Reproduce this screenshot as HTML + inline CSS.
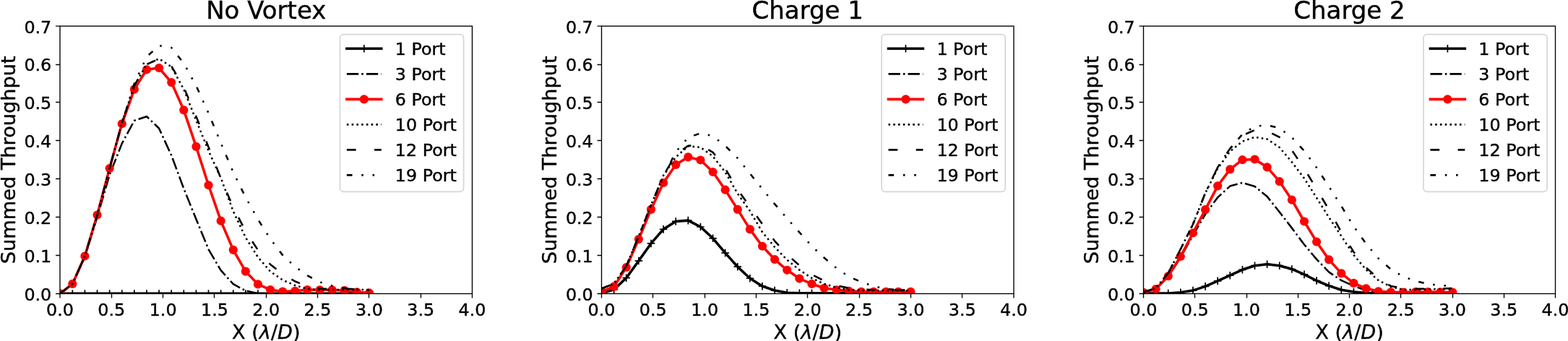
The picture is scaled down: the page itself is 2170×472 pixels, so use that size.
<!DOCTYPE html>
<html lang="en"><head><meta charset="utf-8"><title>Summed Throughput</title>
<style>html,body{margin:0;padding:0;background:#fff;}body{width:2170px;height:472px;overflow:hidden;position:relative;font-family:'DejaVu Sans','Liberation Sans',sans-serif;}svg text{fill:#000;stroke:#000;stroke-width:0.4px;stroke-linejoin:round;}</style>
</head><body>
<svg role="img" aria-label="Summed throughput versus separation for three vortex charges" width="2170" height="472" viewBox="0 0 2170 472" style="display:block;position:absolute;left:0;top:0" font-family="'DejaVu Sans','Liberation Sans',sans-serif">
<rect width="2170" height="472" fill="#fff"/>
<defs>
<clipPath id="c0"><rect x="83" y="36.15" width="570.5" height="370.35"/></clipPath>
<clipPath id="c1"><rect x="832.5" y="36.15" width="570.5" height="370.35"/></clipPath>
<clipPath id="c2"><rect x="1582.5" y="36.15" width="570" height="370.35"/></clipPath>
</defs>
<g class="panel">
<g clip-path="url(#c0)" fill="none">
<polyline points="83.2,406.4 100.31,406.4 117.42,406.4 134.54,406.4 151.65,406.4 168.76,406.4 185.87,406.4 202.98,406.4 220.1,406.4 237.21,406.4 254.32,406.4 271.43,406.4 288.54,406.4 305.66,406.4 322.77,406.4 339.88,406.4 356.99,406.4 374.1,406.4 391.22,406.4 408.33,406.4 425.44,406.4 442.55,406.4 459.66,406.4 476.78,406.4 493.89,406.4 511,406.4" stroke="#000" stroke-width="3.57" stroke-linejoin="round" stroke-linecap="square"/>
<path d="M77.93,406.4h10.54M83.2,401.13v10.54M95.04,406.4h10.54M100.31,401.13v10.54M112.15,406.4h10.54M117.42,401.13v10.54M129.27,406.4h10.54M134.54,401.13v10.54M146.38,406.4h10.54M151.65,401.13v10.54M163.49,406.4h10.54M168.76,401.13v10.54M180.6,406.4h10.54M185.87,401.13v10.54M197.71,406.4h10.54M202.98,401.13v10.54M214.83,406.4h10.54M220.1,401.13v10.54M231.94,406.4h10.54M237.21,401.13v10.54M249.05,406.4h10.54M254.32,401.13v10.54M266.16,406.4h10.54M271.43,401.13v10.54M283.27,406.4h10.54M288.54,401.13v10.54M300.39,406.4h10.54M305.66,401.13v10.54M317.5,406.4h10.54M322.77,401.13v10.54M334.61,406.4h10.54M339.88,401.13v10.54M351.72,406.4h10.54M356.99,401.13v10.54M368.83,406.4h10.54M374.1,401.13v10.54M385.95,406.4h10.54M391.22,401.13v10.54M403.06,406.4h10.54M408.33,401.13v10.54M420.17,406.4h10.54M425.44,401.13v10.54M437.28,406.4h10.54M442.55,401.13v10.54M454.39,406.4h10.54M459.66,401.13v10.54M471.51,406.4h10.54M476.78,401.13v10.54M488.62,406.4h10.54M493.89,401.13v10.54M505.73,406.4h10.54M511,401.13v10.54" stroke="#000" stroke-width="1.7"/>
<polyline points="83.2,406.4 100.31,393.18 117.42,355.65 134.54,300.67 151.65,241.99 168.76,198.64 185.87,166.92 202.98,161.22 220.1,177.71 237.21,215.03 254.32,261.02 271.43,303.31 288.54,345.08 305.66,374.15 322.77,393.18 339.88,402.44 356.99,406.14 374.1,406.4 391.22,406.4 408.33,406.4 425.44,406.4 442.55,406.4 459.66,406.4 476.78,406.4 493.89,406.4 511,406.4" stroke="#000" stroke-width="2.55" stroke-linejoin="round" stroke-dasharray="16.32,4.08,2.55,4.08"/>
<polyline points="83.2,406.4 100.31,392.92 117.42,354.54 134.54,297.55 151.65,233.01 168.76,171.31 185.87,123.58 202.98,96.3 220.1,93.97 237.21,114.06 254.32,152.33 271.43,202.87 288.54,256.27 305.66,305.69 322.77,345.87 339.88,375.63 356.99,393.45 374.1,401.06 391.22,403.65 408.33,402.86 425.44,401.06 442.55,401.27 459.66,401.22 476.78,402.17 493.89,404.29 511,405.45" stroke="#f00" stroke-width="3.57" stroke-linejoin="round" stroke-linecap="square"/>
<circle cx="83.2" cy="406.4" r="6.08" fill="#f00"/>
<circle cx="100.31" cy="392.92" r="6.08" fill="#f00"/>
<circle cx="117.42" cy="354.54" r="6.08" fill="#f00"/>
<circle cx="134.54" cy="297.55" r="6.08" fill="#f00"/>
<circle cx="151.65" cy="233.01" r="6.08" fill="#f00"/>
<circle cx="168.76" cy="171.31" r="6.08" fill="#f00"/>
<circle cx="185.87" cy="123.58" r="6.08" fill="#f00"/>
<circle cx="202.98" cy="96.3" r="6.08" fill="#f00"/>
<circle cx="220.1" cy="93.97" r="6.08" fill="#f00"/>
<circle cx="237.21" cy="114.06" r="6.08" fill="#f00"/>
<circle cx="254.32" cy="152.33" r="6.08" fill="#f00"/>
<circle cx="271.43" cy="202.87" r="6.08" fill="#f00"/>
<circle cx="288.54" cy="256.27" r="6.08" fill="#f00"/>
<circle cx="305.66" cy="305.69" r="6.08" fill="#f00"/>
<circle cx="322.77" cy="345.87" r="6.08" fill="#f00"/>
<circle cx="339.88" cy="375.63" r="6.08" fill="#f00"/>
<circle cx="356.99" cy="393.45" r="6.08" fill="#f00"/>
<circle cx="374.1" cy="401.06" r="6.08" fill="#f00"/>
<circle cx="391.22" cy="403.65" r="6.08" fill="#f00"/>
<circle cx="408.33" cy="402.86" r="6.08" fill="#f00"/>
<circle cx="425.44" cy="401.06" r="6.08" fill="#f00"/>
<circle cx="442.55" cy="401.27" r="6.08" fill="#f00"/>
<circle cx="459.66" cy="401.22" r="6.08" fill="#f00"/>
<circle cx="476.78" cy="402.17" r="6.08" fill="#f00"/>
<circle cx="493.89" cy="404.29" r="6.08" fill="#f00"/>
<circle cx="511" cy="405.45" r="6.08" fill="#f00"/>
<polyline points="83.2,406.4 100.31,392.92 117.42,354.54 134.54,297.55 151.65,233.01 168.76,170.1 185.87,118.29 202.98,89.21 220.1,81.28 237.21,92.39 254.32,123.58 271.43,166.4 288.54,208.69 305.66,246.43 322.77,292.42 339.88,328.74 356.99,355.91 374.1,375.74 391.22,387.63 408.33,395.03 425.44,399.79 442.55,401.27 459.66,401.01 476.78,400.9 493.89,400.9 511,401.01" stroke="#000" stroke-width="2.55" stroke-linejoin="round" stroke-dasharray="2.55,4.21"/>
<polyline points="83.2,406.4 100.31,392.92 117.42,354.54 134.54,297.55 151.65,233.01 168.76,170.1 185.87,118.29 202.98,89.21 220.1,81.28 237.21,91.33 254.32,120.93 271.43,161.11 288.54,203.4 305.66,246.75 322.77,286.82 339.88,320.13 356.99,346.08 374.1,365.96 391.22,379.28 408.33,389.48 425.44,396.09 442.55,399.53 459.66,399.79 476.78,399.53 493.89,400.58 511,401.64" stroke="#000" stroke-width="2.55" stroke-linejoin="round" stroke-dasharray="12.75,25.5"/>
<polyline points="83.2,406.4 100.31,392.92 117.42,354.54 134.54,297.55 151.65,233.01 168.76,170.1 185.87,115.65 202.98,78.64 220.1,63.1 237.21,65.95 254.32,87.58 271.43,118.66 288.54,156.56 305.66,197.96 322.77,238.34 339.88,273.02 356.99,303.74 374.1,330.75 391.22,353.17 408.33,369.18 425.44,381.29 442.55,390.43 459.66,395.62 476.78,398.73 493.89,400.58 511,401.64" stroke="#000" stroke-width="2.55" stroke-linejoin="round" stroke-dasharray="7.65,12.75,2.55,12.75,2.55,12.75"/>
</g>
<path d="M83,406.5v5.95M154.5,406.5v5.95M225.5,406.5v5.95M296.5,406.5v5.95M368.5,406.5v5.95M439.5,406.5v5.95M510.5,406.5v5.95M582.5,406.5v5.95M653.5,406.5v5.95M83,406.5h-5.95M83,353.5h-5.95M83,300.5h-5.95M83,247.5h-5.95M83,194.5h-5.95M83,141.5h-5.95M83,89.5h-5.95M83,36.15h-5.95" stroke="#000" stroke-width="1.36" fill="none"/>
<rect x="83" y="36.15" width="570.5" height="370.35" fill="none" stroke="#000" stroke-width="1.36" stroke-linejoin="miter"/>
<g font-size="23.85" text-anchor="middle">
<text x="83" y="436.8">0.0</text>
<text x="154.31" y="436.8">0.5</text>
<text x="225.62" y="436.8">1.0</text>
<text x="296.94" y="436.8">1.5</text>
<text x="368.25" y="436.8">2.0</text>
<text x="439.56" y="436.8">2.5</text>
<text x="510.88" y="436.8">3.0</text>
<text x="582.19" y="436.8">3.5</text>
<text x="653.5" y="436.8">4.0</text>
</g>
<g font-size="23.85" text-anchor="end">
<text x="71.3" y="415.9">0.0</text>
<text x="71.3" y="362.99">0.1</text>
<text x="71.3" y="310.09">0.2</text>
<text x="71.3" y="257.18">0.3</text>
<text x="71.3" y="204.27">0.4</text>
<text x="71.3" y="151.36">0.5</text>
<text x="71.3" y="98.46">0.6</text>
<text x="71.3" y="45.55">0.7</text>
</g>
<text x="368.25" y="26" font-size="34" text-anchor="middle">No Vortex</text>
<text x="368.25" y="468.8" font-size="27.2" text-anchor="middle">X (<tspan font-style="italic">λ</tspan>/<tspan font-style="italic">D</tspan>)</text>
<text transform="translate(20.7,221.32) rotate(-90)" font-size="27.2" text-anchor="middle">Summed Throughput</text>
<rect x="470.5" y="47.7" width="171.1" height="217.6" rx="4.76" fill="#fff" fill-opacity="0.8" stroke="#ccc" stroke-opacity="0.8" stroke-width="1.7"/>
<line x1="479.9" y1="67.25" x2="527.8" y2="67.25" stroke="#000" stroke-width="3.57" stroke-linecap="square"/>
<path d="M498.58,67.25h10.54M503.85,61.98v10.54" stroke="#000" stroke-width="1.7"/>
<text x="546.8" y="76.05" font-size="23.8">1 Port</text>
<line x1="479.9" y1="102.35" x2="527.8" y2="102.35" stroke="#000" stroke-width="2.55" stroke-dasharray="16.32,4.08,2.55,4.08"/>
<text x="546.8" y="111.15" font-size="23.8">3 Port</text>
<line x1="479.9" y1="137.35" x2="527.8" y2="137.35" stroke="#f00" stroke-width="3.57" stroke-linecap="square"/>
<circle cx="503.85" cy="137.35" r="6.08" fill="#f00"/>
<text x="546.8" y="146.15" font-size="23.8">6 Port</text>
<line x1="479.9" y1="172.35" x2="527.8" y2="172.35" stroke="#000" stroke-width="2.55" stroke-dasharray="2.55,4.21"/>
<text x="546.8" y="181.15" font-size="23.8">10 Port</text>
<line x1="479.9" y1="207.35" x2="527.8" y2="207.35" stroke="#000" stroke-width="2.55" stroke-dasharray="12.75,25.5"/>
<text x="546.8" y="216.15" font-size="23.8">12 Port</text>
<line x1="479.9" y1="242.35" x2="527.8" y2="242.35" stroke="#000" stroke-width="2.55" stroke-dasharray="7.65,12.75,2.55,12.75,2.55,12.75"/>
<text x="546.8" y="251.15" font-size="23.8">19 Port</text>
</g>
<g class="panel">
<g clip-path="url(#c1)" fill="none">
<polyline points="832.55,405.85 849.66,400.78 866.77,384.7 883.89,361.07 901,336.91 918.11,317.36 935.22,306.41 952.33,305.14 969.45,314.02 986.56,329.78 1003.67,350.13 1020.78,369.22 1037.89,385.23 1055.01,396.18 1072.12,401.99 1089.23,405.32 1106.34,405.85 1123.45,405.85 1140.57,405.85 1157.68,405.85 1174.79,405.85 1191.9,405.85 1209.01,405.85 1226.13,405.85 1243.24,405.85 1260.35,405.85" stroke="#000" stroke-width="3.57" stroke-linejoin="round" stroke-linecap="square"/>
<path d="M827.28,405.85h10.54M832.55,400.58v10.54M844.39,400.78h10.54M849.66,395.51v10.54M861.5,384.7h10.54M866.77,379.43v10.54M878.62,361.07h10.54M883.89,355.8v10.54M895.73,336.91h10.54M901,331.64v10.54M912.84,317.36h10.54M918.11,312.09v10.54M929.95,306.41h10.54M935.22,301.14v10.54M947.06,305.14h10.54M952.33,299.87v10.54M964.18,314.02h10.54M969.45,308.75v10.54M981.29,329.78h10.54M986.56,324.51v10.54M998.4,350.13h10.54M1003.67,344.86v10.54M1015.51,369.22h10.54M1020.78,363.95v10.54M1032.62,385.23h10.54M1037.89,379.96v10.54M1049.74,396.18h10.54M1055.01,390.91v10.54M1066.85,401.99h10.54M1072.12,396.72v10.54M1083.96,405.32h10.54M1089.23,400.05v10.54M1101.07,405.85h10.54M1106.34,400.58v10.54M1118.18,405.85h10.54M1123.45,400.58v10.54M1135.3,405.85h10.54M1140.57,400.58v10.54M1152.41,405.85h10.54M1157.68,400.58v10.54M1169.52,405.85h10.54M1174.79,400.58v10.54M1186.63,405.85h10.54M1191.9,400.58v10.54M1203.74,405.85h10.54M1209.01,400.58v10.54M1220.86,405.85h10.54M1226.13,400.58v10.54M1237.97,405.85h10.54M1243.24,400.58v10.54M1255.08,405.85h10.54M1260.35,400.58v10.54" stroke="#000" stroke-width="1.7"/>
<polyline points="832.55,405.85 849.66,400.78 866.77,384.7 883.89,361.07 901,336.91 918.11,317.36 935.22,306.41 952.33,305.14 969.45,314.02 986.56,329.78 1003.67,350.13 1020.78,369.22 1037.89,385.23 1055.01,396.18 1072.12,401.99 1089.23,405.32 1106.34,405.85 1123.45,405.85 1140.57,405.85 1157.68,405.85 1174.79,405.85 1191.9,405.85 1209.01,405.85 1226.13,405.85 1243.24,405.85 1260.35,405.85" stroke="#000" stroke-width="2.55" stroke-linejoin="round" stroke-dasharray="16.32,4.08,2.55,4.08"/>
<polyline points="832.55,403.74 849.66,396.7 866.77,370.01 883.89,331.1 901,289.92 918.11,253.02 935.22,227.91 952.33,217.39 969.45,221.51 986.56,238.01 1003.67,262.69 1020.78,289.92 1037.89,317.36 1055.01,340.77 1072.12,359.07 1089.23,373.81 1106.34,385.55 1123.45,392.95 1140.57,398.71 1157.68,401.25 1174.79,402.89 1191.9,403.89 1209.01,403.89 1226.13,403.89 1243.24,403.74 1260.35,403.74" stroke="#f00" stroke-width="3.57" stroke-linejoin="round" stroke-linecap="square"/>
<circle cx="832.55" cy="403.74" r="6.08" fill="#f00"/>
<circle cx="849.66" cy="396.7" r="6.08" fill="#f00"/>
<circle cx="866.77" cy="370.01" r="6.08" fill="#f00"/>
<circle cx="883.89" cy="331.1" r="6.08" fill="#f00"/>
<circle cx="901" cy="289.92" r="6.08" fill="#f00"/>
<circle cx="918.11" cy="253.02" r="6.08" fill="#f00"/>
<circle cx="935.22" cy="227.91" r="6.08" fill="#f00"/>
<circle cx="952.33" cy="217.39" r="6.08" fill="#f00"/>
<circle cx="969.45" cy="221.51" r="6.08" fill="#f00"/>
<circle cx="986.56" cy="238.01" r="6.08" fill="#f00"/>
<circle cx="1003.67" cy="262.69" r="6.08" fill="#f00"/>
<circle cx="1020.78" cy="289.92" r="6.08" fill="#f00"/>
<circle cx="1037.89" cy="317.36" r="6.08" fill="#f00"/>
<circle cx="1055.01" cy="340.77" r="6.08" fill="#f00"/>
<circle cx="1072.12" cy="359.07" r="6.08" fill="#f00"/>
<circle cx="1089.23" cy="373.81" r="6.08" fill="#f00"/>
<circle cx="1106.34" cy="385.55" r="6.08" fill="#f00"/>
<circle cx="1123.45" cy="392.95" r="6.08" fill="#f00"/>
<circle cx="1140.57" cy="398.71" r="6.08" fill="#f00"/>
<circle cx="1157.68" cy="401.25" r="6.08" fill="#f00"/>
<circle cx="1174.79" cy="402.89" r="6.08" fill="#f00"/>
<circle cx="1191.9" cy="403.89" r="6.08" fill="#f00"/>
<circle cx="1209.01" cy="403.89" r="6.08" fill="#f00"/>
<circle cx="1226.13" cy="403.89" r="6.08" fill="#f00"/>
<circle cx="1243.24" cy="403.74" r="6.08" fill="#f00"/>
<circle cx="1260.35" cy="403.74" r="6.08" fill="#f00"/>
<polyline points="832.55,399.51 849.66,392.63 866.77,368.05 883.89,327.08 901,283.79 918.11,242.82 935.22,217.55 952.33,202.32 969.45,203.91 986.56,216.33 1003.67,238.22 1020.78,267.98 1037.89,292.09 1055.01,321.32 1072.12,341.99 1089.23,359.7 1106.34,373.66 1123.45,385.02 1140.57,392.95 1157.68,397.87 1174.79,401.15 1191.9,401.89 1209.01,401.99 1226.13,402.1 1243.24,402.15 1260.35,402.15" stroke="#000" stroke-width="2.55" stroke-linejoin="round" stroke-dasharray="2.55,4.21"/>
<polyline points="832.55,399.51 849.66,392.63 866.77,368.05 883.89,327.08 901,283.79 918.11,243.03 935.22,213.95 952.33,201.79 969.45,201.16 986.56,210.78 1003.67,233.2 1020.78,262.11 1037.89,286.43 1055.01,310.06 1072.12,333.53 1089.23,352.3 1106.34,367.36 1123.45,379.89 1140.57,388.67 1157.68,395.28 1174.79,398.61 1191.9,400.51 1209.01,401.2 1226.13,401.41 1243.24,401.57 1260.35,401.62" stroke="#000" stroke-width="2.55" stroke-linejoin="round" stroke-dasharray="12.75,25.5"/>
<polyline points="832.55,399.51 849.66,392.63 866.77,368.05 883.89,327.08 901,283.79 918.11,245.25 935.22,210.25 952.33,190.27 969.45,184.45 986.56,188.31 1003.67,201.79 1020.78,218.97 1037.89,240.12 1055.01,261.58 1072.12,282.41 1089.23,302.29 1106.34,321.53 1123.45,340.62 1140.57,356.74 1157.68,371.22 1174.79,382.8 1191.9,390.41 1209.01,396.12 1226.13,399.93 1243.24,401.2 1260.35,401.62" stroke="#000" stroke-width="2.55" stroke-linejoin="round" stroke-dasharray="7.65,12.75,2.55,12.75,2.55,12.75"/>
</g>
<path d="M832.5,406.5v5.95M903.5,406.5v5.95M975.5,406.5v5.95M1046.5,406.5v5.95M1117.5,406.5v5.95M1189.5,406.5v5.95M1260.5,406.5v5.95M1331.5,406.5v5.95M1403,406.5v5.95M832.5,406.5h-5.95M832.5,353.5h-5.95M832.5,300.5h-5.95M832.5,247.5h-5.95M832.5,194.5h-5.95M832.5,141.5h-5.95M832.5,89.5h-5.95M832.5,36.15h-5.95" stroke="#000" stroke-width="1.36" fill="none"/>
<rect x="832.5" y="36.15" width="570.5" height="370.35" fill="none" stroke="#000" stroke-width="1.36" stroke-linejoin="miter"/>
<g font-size="23.85" text-anchor="middle">
<text x="832.5" y="436.8">0.0</text>
<text x="903.81" y="436.8">0.5</text>
<text x="975.12" y="436.8">1.0</text>
<text x="1046.44" y="436.8">1.5</text>
<text x="1117.75" y="436.8">2.0</text>
<text x="1189.06" y="436.8">2.5</text>
<text x="1260.38" y="436.8">3.0</text>
<text x="1331.69" y="436.8">3.5</text>
<text x="1403" y="436.8">4.0</text>
</g>
<g font-size="23.85" text-anchor="end">
<text x="820.8" y="415.9">0.0</text>
<text x="820.8" y="362.99">0.1</text>
<text x="820.8" y="310.09">0.2</text>
<text x="820.8" y="257.18">0.3</text>
<text x="820.8" y="204.27">0.4</text>
<text x="820.8" y="151.36">0.5</text>
<text x="820.8" y="98.46">0.6</text>
<text x="820.8" y="45.55">0.7</text>
</g>
<text x="1117.75" y="26" font-size="34" text-anchor="middle">Charge 1</text>
<text x="1117.75" y="468.8" font-size="27.2" text-anchor="middle">X (<tspan font-style="italic">λ</tspan>/<tspan font-style="italic">D</tspan>)</text>
<text transform="translate(770.05,221.32) rotate(-90)" font-size="27.2" text-anchor="middle">Summed Throughput</text>
<rect x="1220.1" y="47.7" width="171.1" height="217.6" rx="4.76" fill="#fff" fill-opacity="0.8" stroke="#ccc" stroke-opacity="0.8" stroke-width="1.7"/>
<line x1="1229.5" y1="67.25" x2="1277.4" y2="67.25" stroke="#000" stroke-width="3.57" stroke-linecap="square"/>
<path d="M1248.18,67.25h10.54M1253.45,61.98v10.54" stroke="#000" stroke-width="1.7"/>
<text x="1296.4" y="76.05" font-size="23.8">1 Port</text>
<line x1="1229.5" y1="102.35" x2="1277.4" y2="102.35" stroke="#000" stroke-width="2.55" stroke-dasharray="16.32,4.08,2.55,4.08"/>
<text x="1296.4" y="111.15" font-size="23.8">3 Port</text>
<line x1="1229.5" y1="137.35" x2="1277.4" y2="137.35" stroke="#f00" stroke-width="3.57" stroke-linecap="square"/>
<circle cx="1253.45" cy="137.35" r="6.08" fill="#f00"/>
<text x="1296.4" y="146.15" font-size="23.8">6 Port</text>
<line x1="1229.5" y1="172.35" x2="1277.4" y2="172.35" stroke="#000" stroke-width="2.55" stroke-dasharray="2.55,4.21"/>
<text x="1296.4" y="181.15" font-size="23.8">10 Port</text>
<line x1="1229.5" y1="207.35" x2="1277.4" y2="207.35" stroke="#000" stroke-width="2.55" stroke-dasharray="12.75,25.5"/>
<text x="1296.4" y="216.15" font-size="23.8">12 Port</text>
<line x1="1229.5" y1="242.35" x2="1277.4" y2="242.35" stroke="#000" stroke-width="2.55" stroke-dasharray="7.65,12.75,2.55,12.75,2.55,12.75"/>
<text x="1296.4" y="251.15" font-size="23.8">19 Port</text>
</g>
<g class="panel">
<g clip-path="url(#c2)" fill="none">
<polyline points="1582.5,406.15 1599.61,406.1 1616.72,405.94 1633.84,404.78 1650.95,402.08 1668.06,396.37 1685.17,388.86 1702.28,381.2 1719.4,373.32 1736.51,367.72 1753.62,365.71 1770.73,367.66 1787.84,372.48 1804.96,379.88 1822.07,388.49 1839.18,395.63 1856.29,401.23 1873.4,404.09 1890.52,405.62 1907.63,406.15 1924.74,406.15 1941.85,406.15 1958.96,406.15 1976.08,406.15 1993.19,406.15 2010.3,406.15" stroke="#000" stroke-width="3.57" stroke-linejoin="round" stroke-linecap="square"/>
<path d="M1577.23,406.15h10.54M1582.5,400.88v10.54M1594.34,406.1h10.54M1599.61,400.83v10.54M1611.45,405.94h10.54M1616.72,400.67v10.54M1628.57,404.78h10.54M1633.84,399.51v10.54M1645.68,402.08h10.54M1650.95,396.81v10.54M1662.79,396.37h10.54M1668.06,391.1v10.54M1679.9,388.86h10.54M1685.17,383.59v10.54M1697.01,381.2h10.54M1702.28,375.93v10.54M1714.13,373.32h10.54M1719.4,368.05v10.54M1731.24,367.72h10.54M1736.51,362.45v10.54M1748.35,365.71h10.54M1753.62,360.44v10.54M1765.46,367.66h10.54M1770.73,362.39v10.54M1782.57,372.48h10.54M1787.84,367.21v10.54M1799.69,379.88h10.54M1804.96,374.61v10.54M1816.8,388.49h10.54M1822.07,383.22v10.54M1833.91,395.63h10.54M1839.18,390.36v10.54M1851.02,401.23h10.54M1856.29,395.96v10.54M1868.13,404.09h10.54M1873.4,398.82v10.54M1885.25,405.62h10.54M1890.52,400.35v10.54M1902.36,406.15h10.54M1907.63,400.88v10.54M1919.47,406.15h10.54M1924.74,400.88v10.54M1936.58,406.15h10.54M1941.85,400.88v10.54M1953.69,406.15h10.54M1958.96,400.88v10.54M1970.81,406.15h10.54M1976.08,400.88v10.54M1987.92,406.15h10.54M1993.19,400.88v10.54M2005.03,406.15h10.54M2010.3,400.88v10.54" stroke="#000" stroke-width="1.7"/>
<polyline points="1582.5,405.09 1599.61,400.33 1616.72,382.89 1633.84,356.46 1650.95,325.74 1668.06,296.56 1685.17,273.3 1702.28,257.6 1719.4,253 1736.51,258.08 1753.62,272.09 1770.73,293.5 1787.84,315.65 1804.96,338.54 1822.07,358.84 1839.18,376.65 1856.29,388.07 1873.4,395.68 1890.52,402.08 1907.63,404.56 1924.74,405.62 1941.85,405.83 1958.96,405.99 1976.08,406.1 1993.19,406.15 2010.3,406.15" stroke="#000" stroke-width="2.55" stroke-linejoin="round" stroke-dasharray="16.32,4.08,2.55,4.08"/>
<polyline points="1582.5,404.72 1599.61,400.02 1616.72,382.26 1633.84,355.03 1650.95,322.47 1668.06,290.17 1685.17,257.34 1702.28,234.39 1719.4,221.18 1736.51,220.49 1753.62,231.38 1770.73,251.2 1787.84,276.69 1804.96,306.5 1822.07,334.68 1839.18,359.37 1856.29,378.4 1873.4,391.88 1890.52,399.28 1907.63,403.3 1924.74,404.25 1941.85,404.56 1958.96,404.04 1976.08,404.04 1993.19,404.25 2010.3,404.67" stroke="#f00" stroke-width="3.57" stroke-linejoin="round" stroke-linecap="square"/>
<circle cx="1582.5" cy="404.72" r="6.08" fill="#f00"/>
<circle cx="1599.61" cy="400.02" r="6.08" fill="#f00"/>
<circle cx="1616.72" cy="382.26" r="6.08" fill="#f00"/>
<circle cx="1633.84" cy="355.03" r="6.08" fill="#f00"/>
<circle cx="1650.95" cy="322.47" r="6.08" fill="#f00"/>
<circle cx="1668.06" cy="290.17" r="6.08" fill="#f00"/>
<circle cx="1685.17" cy="257.34" r="6.08" fill="#f00"/>
<circle cx="1702.28" cy="234.39" r="6.08" fill="#f00"/>
<circle cx="1719.4" cy="221.18" r="6.08" fill="#f00"/>
<circle cx="1736.51" cy="220.49" r="6.08" fill="#f00"/>
<circle cx="1753.62" cy="231.38" r="6.08" fill="#f00"/>
<circle cx="1770.73" cy="251.2" r="6.08" fill="#f00"/>
<circle cx="1787.84" cy="276.69" r="6.08" fill="#f00"/>
<circle cx="1804.96" cy="306.5" r="6.08" fill="#f00"/>
<circle cx="1822.07" cy="334.68" r="6.08" fill="#f00"/>
<circle cx="1839.18" cy="359.37" r="6.08" fill="#f00"/>
<circle cx="1856.29" cy="378.4" r="6.08" fill="#f00"/>
<circle cx="1873.4" cy="391.88" r="6.08" fill="#f00"/>
<circle cx="1890.52" cy="399.28" r="6.08" fill="#f00"/>
<circle cx="1907.63" cy="403.3" r="6.08" fill="#f00"/>
<circle cx="1924.74" cy="404.25" r="6.08" fill="#f00"/>
<circle cx="1941.85" cy="404.56" r="6.08" fill="#f00"/>
<circle cx="1958.96" cy="404.04" r="6.08" fill="#f00"/>
<circle cx="1976.08" cy="404.04" r="6.08" fill="#f00"/>
<circle cx="1993.19" cy="404.25" r="6.08" fill="#f00"/>
<circle cx="2010.3" cy="404.67" r="6.08" fill="#f00"/>
<polyline points="1582.5,404.56 1599.61,398.75 1616.72,377.92 1633.84,344.88 1650.95,310.52 1668.06,267.17 1685.17,233.28 1702.28,209.49 1719.4,195.75 1736.51,189.72 1753.62,192.58 1770.73,204.05 1787.84,224.3 1804.96,246.87 1822.07,273.78 1839.18,300.95 1856.29,326.75 1873.4,352.86 1890.52,373.22 1907.63,387.91 1924.74,396.9 1941.85,400.81 1958.96,401.13 1976.08,400.23 1993.19,400.23 2010.3,400.33" stroke="#000" stroke-width="2.55" stroke-linejoin="round" stroke-dasharray="2.55,4.21"/>
<polyline points="1582.5,404.56 1599.61,398.75 1616.72,377.92 1633.84,344.88 1650.95,310.52 1668.06,267.17 1685.17,231.59 1702.28,205.64 1719.4,187.61 1736.51,180 1753.62,181.11 1770.73,189.99 1787.84,208.01 1804.96,233.44 1822.07,261.46 1839.18,290.27 1856.29,321.3 1873.4,348.69 1890.52,370.15 1907.63,385.74 1924.74,395.95 1941.85,399.07 1958.96,399.81 1976.08,399.75 1993.19,399.54 2010.3,399.01" stroke="#000" stroke-width="2.55" stroke-linejoin="round" stroke-dasharray="12.75,25.5"/>
<polyline points="1582.5,404.56 1599.61,398.75 1616.72,377.92 1633.84,344.88 1650.95,310.52 1668.06,267.17 1685.17,231.59 1702.28,205.58 1719.4,185.86 1736.51,174.87 1753.62,173.02 1770.73,177.51 1787.84,190.2 1804.96,208.86 1822.07,232.07 1839.18,258.24 1856.29,285.25 1873.4,313.37 1890.52,337.37 1907.63,357.62 1924.74,372.69 1941.85,382.78 1958.96,388.97 1976.08,393.04 1993.19,395.05 2010.3,396.11" stroke="#000" stroke-width="2.55" stroke-linejoin="round" stroke-dasharray="7.65,12.75,2.55,12.75,2.55,12.75"/>
</g>
<path d="M1582.5,406.5v5.95M1653.5,406.5v5.95M1725.5,406.5v5.95M1796.5,406.5v5.95M1867.5,406.5v5.95M1938.5,406.5v5.95M2010.5,406.5v5.95M2081.5,406.5v5.95M2152.5,406.5v5.95M1582.5,406.5h-5.95M1582.5,353.5h-5.95M1582.5,300.5h-5.95M1582.5,247.5h-5.95M1582.5,194.5h-5.95M1582.5,141.5h-5.95M1582.5,89.5h-5.95M1582.5,36.15h-5.95" stroke="#000" stroke-width="1.36" fill="none"/>
<rect x="1582.5" y="36.15" width="570" height="370.35" fill="none" stroke="#000" stroke-width="1.36" stroke-linejoin="miter"/>
<g font-size="23.85" text-anchor="middle">
<text x="1582.5" y="436.8">0.0</text>
<text x="1653.75" y="436.8">0.5</text>
<text x="1725" y="436.8">1.0</text>
<text x="1796.25" y="436.8">1.5</text>
<text x="1867.5" y="436.8">2.0</text>
<text x="1938.75" y="436.8">2.5</text>
<text x="2010" y="436.8">3.0</text>
<text x="2081.25" y="436.8">3.5</text>
<text x="2152.5" y="436.8">4.0</text>
</g>
<g font-size="23.85" text-anchor="end">
<text x="1570.8" y="415.9">0.0</text>
<text x="1570.8" y="362.99">0.1</text>
<text x="1570.8" y="310.09">0.2</text>
<text x="1570.8" y="257.18">0.3</text>
<text x="1570.8" y="204.27">0.4</text>
<text x="1570.8" y="151.36">0.5</text>
<text x="1570.8" y="98.46">0.6</text>
<text x="1570.8" y="45.55">0.7</text>
</g>
<text x="1867.5" y="26" font-size="34" text-anchor="middle">Charge 2</text>
<text x="1867.5" y="468.8" font-size="27.2" text-anchor="middle">X (<tspan font-style="italic">λ</tspan>/<tspan font-style="italic">D</tspan>)</text>
<text transform="translate(1520.1,221.32) rotate(-90)" font-size="27.2" text-anchor="middle">Summed Throughput</text>
<rect x="1970" y="47.7" width="171.1" height="217.6" rx="4.76" fill="#fff" fill-opacity="0.8" stroke="#ccc" stroke-opacity="0.8" stroke-width="1.7"/>
<line x1="1979.4" y1="67.25" x2="2027.3" y2="67.25" stroke="#000" stroke-width="3.57" stroke-linecap="square"/>
<path d="M1998.08,67.25h10.54M2003.35,61.98v10.54" stroke="#000" stroke-width="1.7"/>
<text x="2046.3" y="76.05" font-size="23.8">1 Port</text>
<line x1="1979.4" y1="102.35" x2="2027.3" y2="102.35" stroke="#000" stroke-width="2.55" stroke-dasharray="16.32,4.08,2.55,4.08"/>
<text x="2046.3" y="111.15" font-size="23.8">3 Port</text>
<line x1="1979.4" y1="137.35" x2="2027.3" y2="137.35" stroke="#f00" stroke-width="3.57" stroke-linecap="square"/>
<circle cx="2003.35" cy="137.35" r="6.08" fill="#f00"/>
<text x="2046.3" y="146.15" font-size="23.8">6 Port</text>
<line x1="1979.4" y1="172.35" x2="2027.3" y2="172.35" stroke="#000" stroke-width="2.55" stroke-dasharray="2.55,4.21"/>
<text x="2046.3" y="181.15" font-size="23.8">10 Port</text>
<line x1="1979.4" y1="207.35" x2="2027.3" y2="207.35" stroke="#000" stroke-width="2.55" stroke-dasharray="12.75,25.5"/>
<text x="2046.3" y="216.15" font-size="23.8">12 Port</text>
<line x1="1979.4" y1="242.35" x2="2027.3" y2="242.35" stroke="#000" stroke-width="2.55" stroke-dasharray="7.65,12.75,2.55,12.75,2.55,12.75"/>
<text x="2046.3" y="251.15" font-size="23.8">19 Port</text>
</g>
</svg>
</body></html>
